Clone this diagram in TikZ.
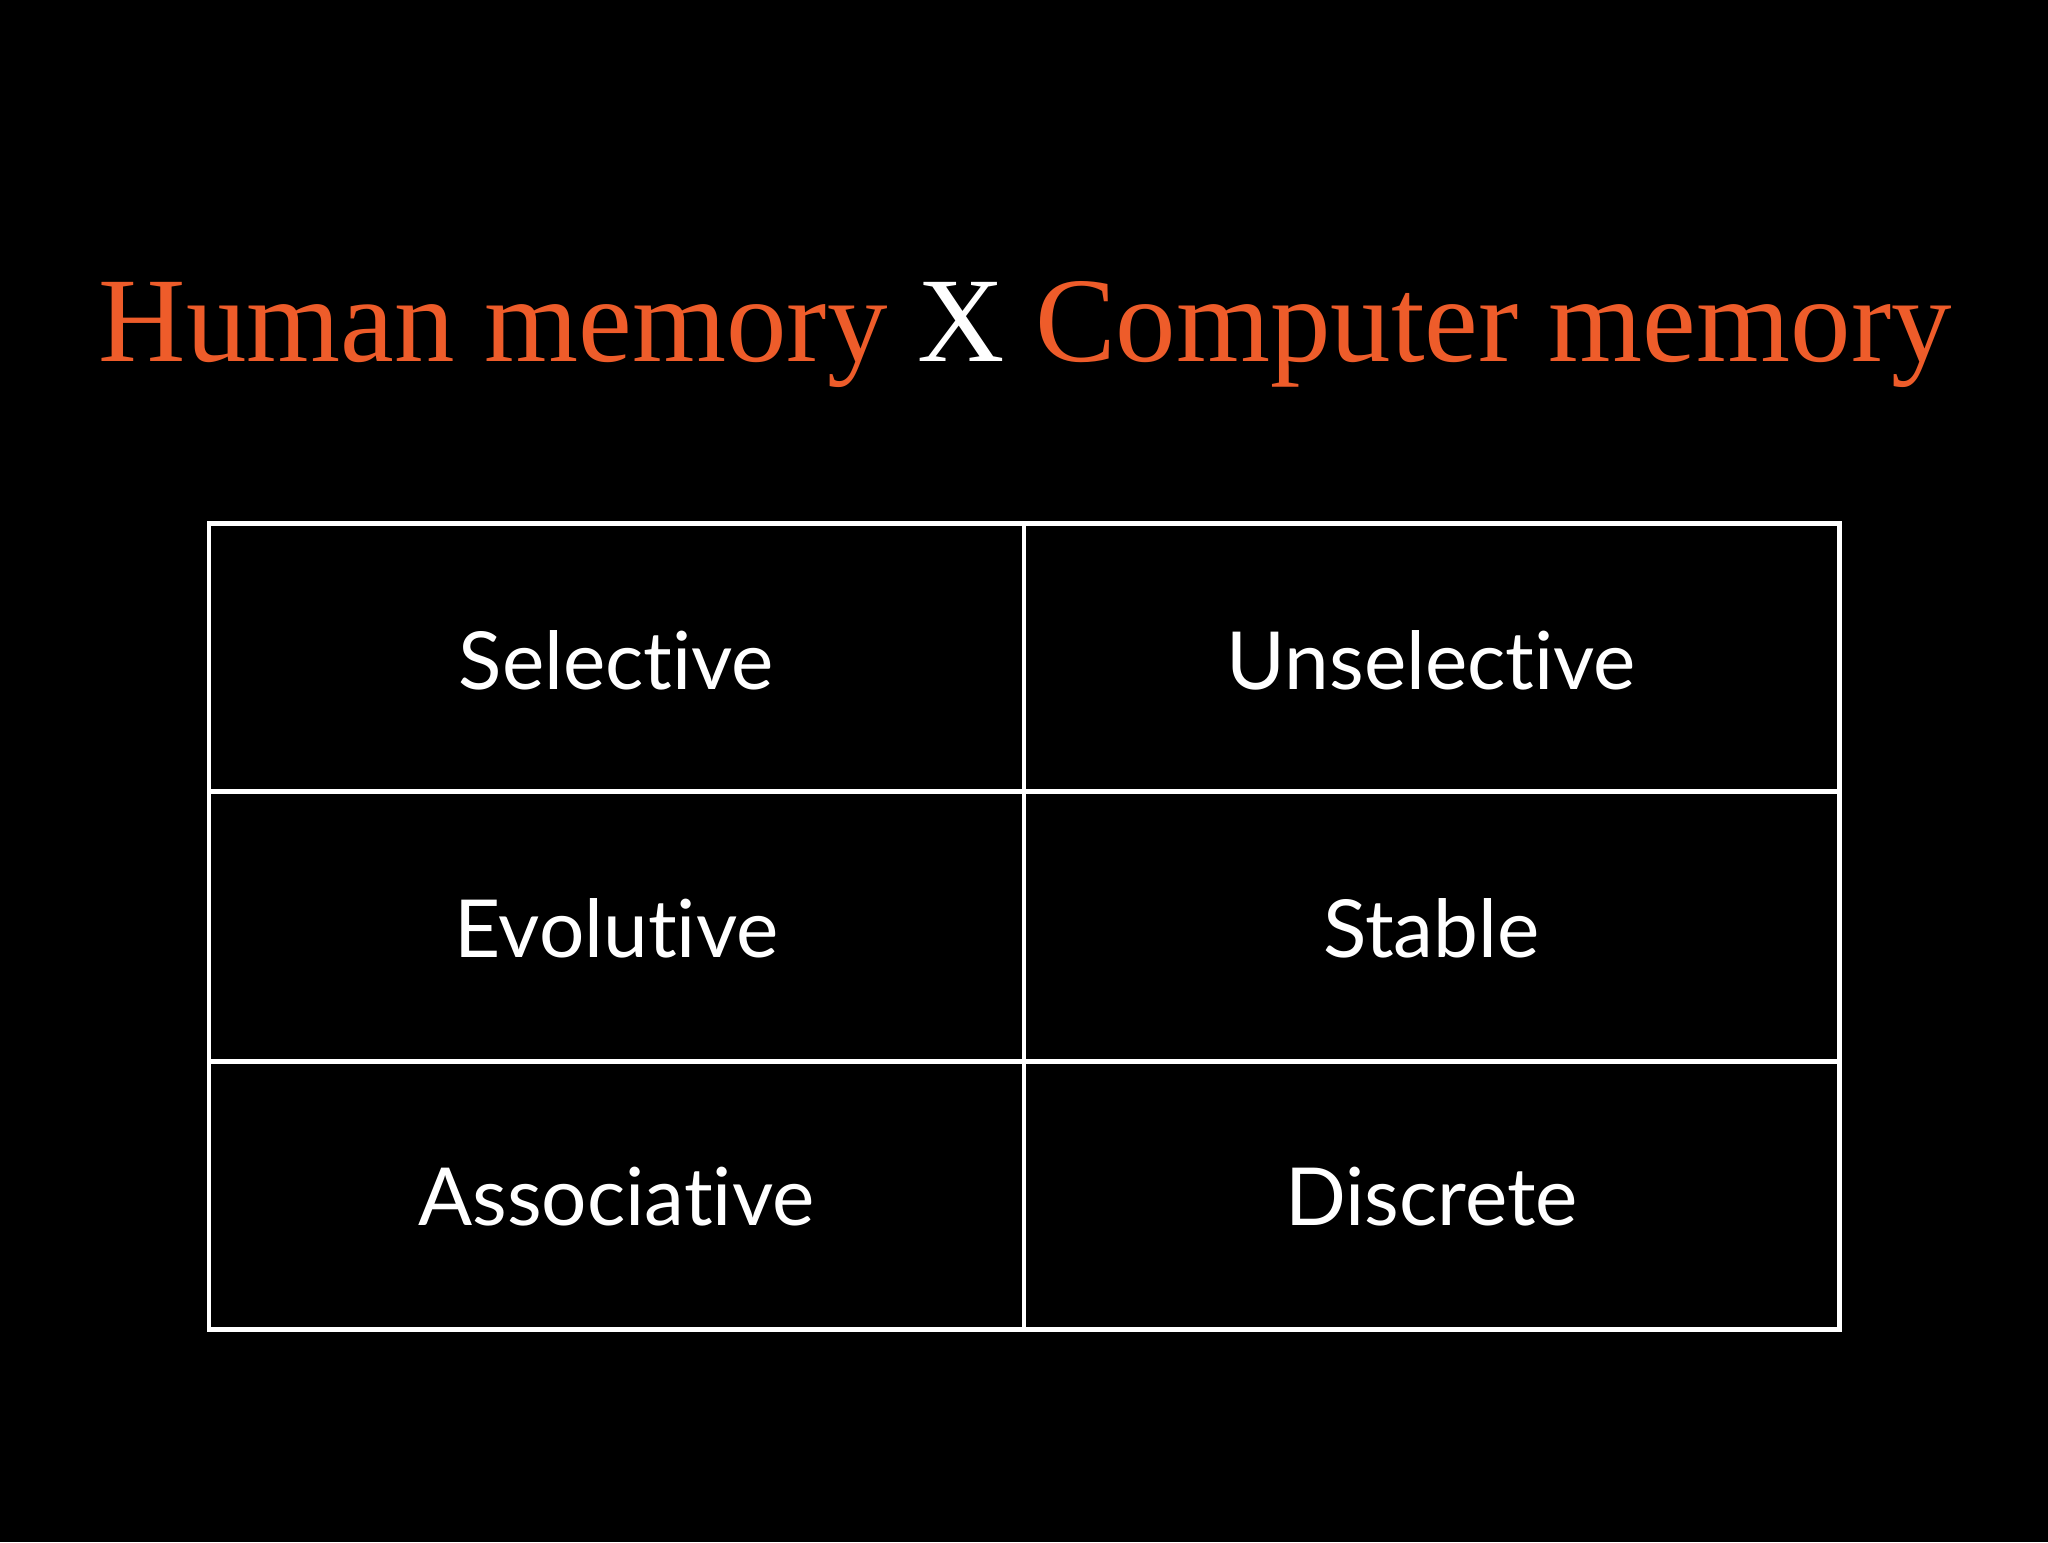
\documentclass[tikz,border=0pt]{standalone}
\usepackage{fontspec}
\setmainfont{Liberation Serif}
\newfontfamily\cellfont[Ligatures=NoCommon]{Lato}
\definecolor{ttl}{RGB}{238,92,42}
\begin{document}
\begin{tikzpicture}[x=0.03cm,y=-0.03cm,
  cell/.style={font=\cellfont\fontsize{53}{55}\selectfont, text=white},
  grid/.style={draw=white, line width=3.2pt}]
\fill[black] (-10,-10) rectangle (1578,1186);
\useasboundingbox (0,0) rectangle (1568,1176);
\node[anchor=base, font=\fontsize{80}{86}\selectfont, text=ttl] (title) at (785,270)
  {Human memory \textcolor{white}{X} Computer memory};
\draw[grid] (152,396) rectangle (1416,1021);
\draw[grid] (784,396) -- (784,1021);
\draw[grid] (152,604) -- (1416,604);
\draw[grid] (152,813) -- (1416,813);
\node[cell] (a1) at (468,502) {Selective};
\node[cell] (b1) at (1100,502) {Unselective};
\node[cell] (a2) at (468,710) {Evolutive};
\node[cell] (b2) at (1100,710) {Stable};
\node[cell] (a3) at (468,918) {Associative};
\node[cell] (b3) at (1100,918) {Discrete};
\end{tikzpicture}
\end{document}
